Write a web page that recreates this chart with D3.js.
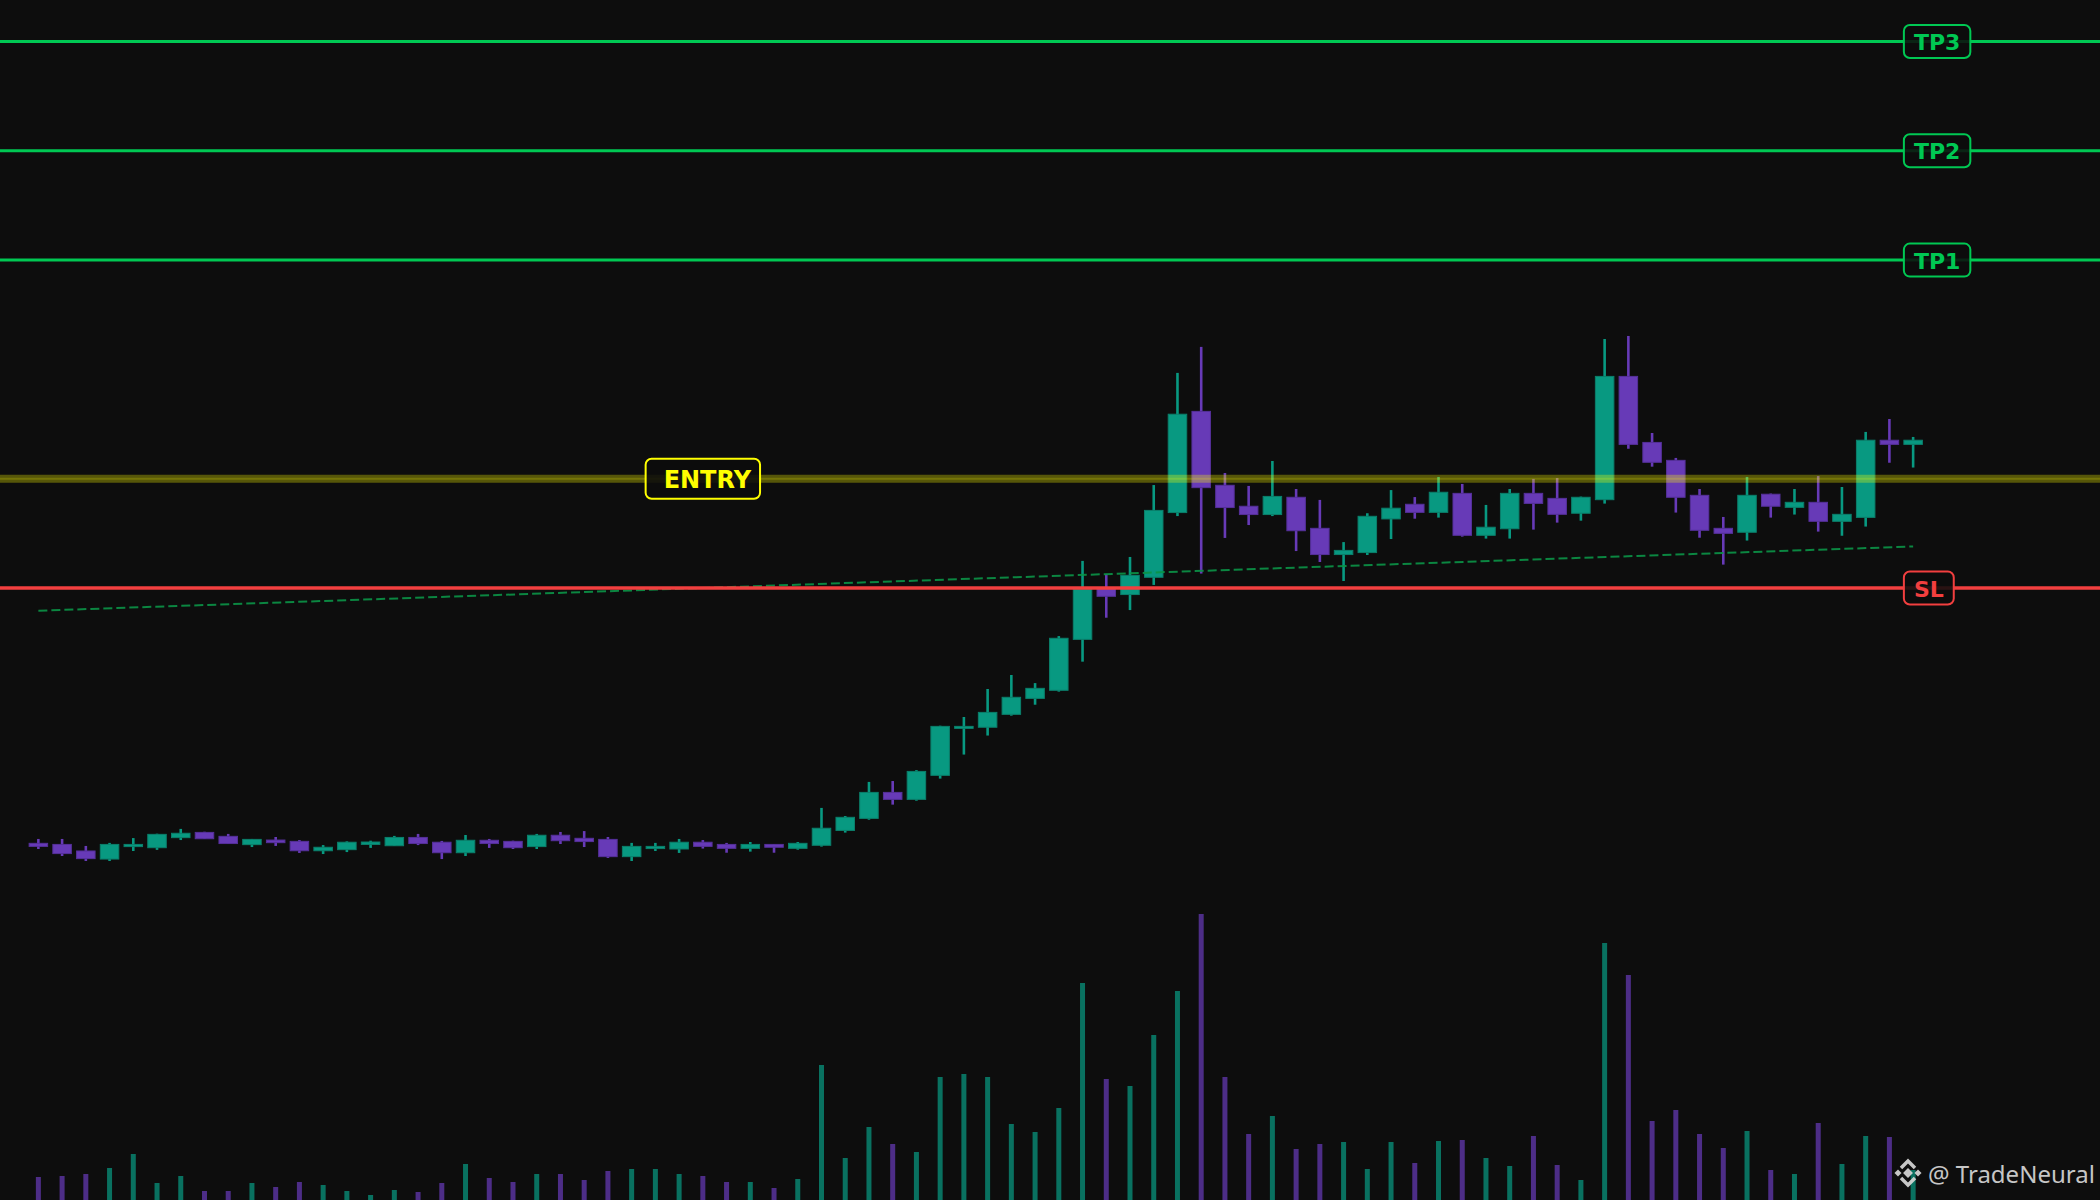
<!DOCTYPE html>
<html>
<head>
<meta charset="utf-8">
<script src="https://cdn.jsdelivr.net/npm/d3@7"></script>
<style>
  html, body { margin: 0; padding: 0; background: #0d0d0d; overflow: hidden; }
</style>
</head>
<body>
<div id="chart"></div>
<script>
//-------- Data --------

var opens = [83.32, 83.27, 82.97, 82.60, 83.17, 83.12, 83.58, 83.82, 83.64, 83.26,
  83.47, 83.41, 82.98, 83.03, 83.27, 83.21, 83.59, 83.37, 82.89, 83.46,
  83.41, 83.17, 83.69, 83.55, 83.50, 82.71, 83.08, 83.06, 83.37, 83.27,
  83.09, 83.27, 83.09, 83.23, 83.91, 84.46, 85.65, 85.33, 86.43, 88.58,
  88.63, 89.22, 89.95, 90.32, 92.65, 94.99, 94.70, 95.49, 98.45, 103.08,
  99.70, 98.74, 98.36, 99.15, 97.73, 96.53, 96.62, 98.16, 98.83, 98.46,
  99.33, 97.41, 97.71, 99.33, 99.10, 98.42, 99.04, 104.68, 101.66, 100.84,
  99.24, 97.73, 97.55, 99.29, 98.69, 98.92, 98.05, 98.23, 101.76, 101.57];

var highs = [83.52, 83.52, 83.20, 83.34, 83.56, 83.76, 83.98, 83.85, 83.75, 83.52,
  83.61, 83.47, 83.24, 83.41, 83.44, 83.66, 83.75, 83.43, 83.70, 83.52,
  83.44, 83.75, 83.84, 83.88, 83.61, 83.34, 83.34, 83.52, 83.47, 83.34,
  83.38, 83.29, 83.38, 84.94, 84.57, 86.13, 86.17, 86.67, 88.70, 89.10,
  90.38, 91.02, 90.65, 92.80, 96.24, 95.64, 96.42, 99.71, 104.84, 106.03,
  100.26, 99.67, 100.81, 99.53, 99.03, 97.10, 98.42, 99.48, 99.16, 100.08,
  99.76, 98.80, 99.53, 99.99, 100.03, 99.18, 106.39, 106.53, 102.09, 100.95,
  99.53, 98.25, 100.08, 99.32, 99.53, 100.12, 99.62, 102.14, 102.73, 101.91];

var lows = [83.06, 82.74, 82.51, 82.51, 82.97, 83.02, 83.47, 83.52, 83.29, 83.15,
  83.20, 82.88, 82.83, 82.92, 83.11, 83.20, 83.24, 82.60, 82.74, 83.11,
  83.06, 83.06, 83.29, 83.15, 82.65, 82.51, 82.97, 82.88, 83.08, 82.89,
  82.94, 82.89, 83.03, 83.17, 83.81, 84.40, 85.09, 85.27, 86.28, 87.38,
  88.25, 89.16, 89.66, 90.26, 91.63, 93.64, 93.99, 95.14, 98.29, 95.66,
  97.29, 97.88, 98.29, 96.69, 96.19, 95.32, 96.51, 97.24, 98.17, 98.22,
  97.35, 97.26, 97.26, 97.67, 97.99, 98.08, 98.86, 101.37, 100.55, 98.45,
  97.30, 96.07, 97.17, 98.22, 98.36, 97.58, 97.39, 97.81, 100.73, 100.51];

var closes = [83.18, 82.85, 82.62, 83.27, 83.27, 83.73, 83.78, 83.53, 83.31, 83.50,
  83.35, 82.98, 83.14, 83.37, 83.38, 83.59, 83.31, 82.89, 83.46, 83.31,
  83.12, 83.69, 83.44, 83.40, 82.71, 83.18, 83.18, 83.37, 83.18, 83.09,
  83.27, 83.14, 83.32, 84.01, 84.51, 85.65, 85.33, 86.61, 88.67, 88.67,
  89.31, 90.00, 90.41, 92.70, 94.95, 94.62, 95.58, 98.55, 102.95, 99.59,
  98.68, 98.36, 99.19, 97.62, 96.53, 96.72, 98.28, 98.65, 98.46, 99.38,
  97.41, 97.78, 99.33, 98.87, 98.37, 99.15, 104.68, 101.57, 100.75, 99.15,
  97.64, 97.50, 99.24, 98.74, 98.92, 98.05, 98.37, 101.76, 101.57, 101.76];

var volumes = [23, 24, 26, 32, 46, 17, 24, 9, 9, 17,
  13, 18, 15, 9, 5, 10, 8, 17, 36, 22,
  18, 26, 26, 20, 29, 31, 31, 26, 24, 18,
  18, 12, 21, 135, 42, 73, 56, 48, 123, 126,
  123, 76, 68, 92, 217, 121, 114, 165, 209, 286,
  123, 66, 84, 51, 56, 58, 31, 58, 37, 59,
  60, 42, 34, 64, 35, 20, 257, 225, 79, 90,
  66, 52, 69, 30, 26, 77, 36, 64, 63, 30];

// trade levels
var levelNames = ['TP3', 'TP2', 'TP1', 'ENTRY', 'SL'];
var levelPrices = [120, 115, 110, 100, 95];

// dashed support trend (price at first and last candle)
var trendPrices = [93.96, 96.90];

var watermarkText = '@ TradeNeural';

//-------- Setup --------
var W = 2100, H = 1200;
var upColor = '#089981', downColor = '#673ab7';
var upEdge = '#0b7f6b', downEdge = '#55309a';

var svg = d3.select('#chart').append('svg')
  .attr('width', W).attr('height', H)
  .style('display', 'block');

svg.append('rect').attr('width', W).attr('height', H).attr('fill', '#0d0d0d');

var idx = d3.range(opens.length);
var x = d3.scaleBand().domain(idx).range([26.5, 1925]).paddingInner(0.22).paddingOuter(0.11);
var xc = function(i) { return x(i) + x.bandwidth() / 2; };

var y = d3.scaleLinear().domain([95, 120]).range([588, 41.5]);
var yv = d3.scaleLinear().domain([0, 286]).range([H, 914]);

var isUp = function(i) { return closes[i] >= opens[i]; };

//-------- Volume --------
svg.append('g').selectAll('rect').data(idx).enter().append('rect')
  .attr('x', function(i) { return xc(i) - 2.5; })
  .attr('width', 5)
  .attr('y', function(i) { return yv(volumes[i]); })
  .attr('height', function(i) { return H - yv(volumes[i]); })
  .attr('fill', function(i) { return isUp(i) ? upColor : downColor; })
  .attr('opacity', 0.72);

//-------- Candles --------
var candles = svg.append('g').selectAll('g').data(idx).enter().append('g');

candles.append('line')
  .attr('x1', xc).attr('x2', xc)
  .attr('y1', function(i) { return y(highs[i]); })
  .attr('y2', function(i) { return y(lows[i]); })
  .attr('stroke', function(i) { return isUp(i) ? upColor : downColor; })
  .attr('stroke-width', 2.6);

candles.append('rect')
  .attr('x', function(i) { return x(i); })
  .attr('width', x.bandwidth())
  .attr('y', function(i) { return y(Math.max(opens[i], closes[i])); })
  .attr('height', function(i) { return Math.max(2, Math.abs(y(opens[i]) - y(closes[i]))); })
  .attr('fill', function(i) { return isUp(i) ? upColor : downColor; })
  .attr('stroke', function(i) { return isUp(i) ? upEdge : downEdge; })
  .attr('stroke-width', 1);

//-------- Trend line --------
svg.append('line')
  .attr('x1', xc(0)).attr('y1', y(trendPrices[0]))
  .attr('x2', xc(idx.length - 1)).attr('y2', y(trendPrices[1]))
  .attr('stroke', '#0b9447')
  .attr('stroke-width', 2)
  .attr('stroke-dasharray', '9,4')
  .attr('opacity', 0.9);

//-------- Level lines --------
var levelColor = { TP3: '#00c853', TP2: '#00c853', TP1: '#00c853', ENTRY: '#ffff00', SL: '#f23f3f' };

levelNames.forEach(function(name, k) {
  var ly = y(levelPrices[k]);
  if (name === 'ENTRY') {
    svg.append('line').attr('x1', 0).attr('x2', W).attr('y1', ly).attr('y2', ly)
      .attr('stroke', '#ffff00').attr('stroke-width', 8).attr('opacity', 0.3);
    svg.append('line').attr('x1', 0).attr('x2', W).attr('y1', ly).attr('y2', ly)
      .attr('stroke', '#ffff00').attr('stroke-width', 2).attr('opacity', 0.18);
  } else {
    svg.append('line').attr('x1', 0).attr('x2', W).attr('y1', ly).attr('y2', ly)
      .attr('stroke', levelColor[name]).attr('stroke-width', name === 'SL' ? 3.5 : 3);
  }
});

//-------- Level labels --------
// TP / SL boxes are left-aligned at the last candle, ENTRY is centred on candle 29
levelNames.forEach(function(name, k) {
  var ly = y(levelPrices[k]);
  var col = levelColor[name];
  var entry = name === 'ENTRY';
  var g = svg.append('g');
  var box = g.append('rect');
  var txt = g.append('text')
    .text(name)
    .attr('font-family', 'DejaVu Sans, sans-serif')
    .attr('font-weight', 'bold')
    .attr('font-size', entry ? 24 : 22)
    .attr('fill', col)
    .attr('dominant-baseline', 'central')
    .attr('y', ly + 1);
  var tw = txt.node().getComputedTextLength();
  var padL = entry ? 18 : 10, padR = entry ? 9 : 10;
  var bw = tw + padL + padR, bh = entry ? 40 : 33;
  var bx = entry ? xc(28) - bw / 2 : x(idx.length - 1);
  box.attr('x', bx).attr('y', ly - bh / 2).attr('width', bw).attr('height', bh)
    .attr('rx', 6).attr('ry', 6)
    .attr('fill', '#0d0d0d').attr('fill-opacity', 0.88)
    .attr('stroke', col).attr('stroke-width', 2);
  txt.attr('x', bx + padL);
});

//-------- Watermark --------
var wm = svg.append('g').attr('fill', '#d6d6d6').attr('opacity', 0.92);
var lg = wm.append('g').attr('transform', 'translate(1908,1173)');
lg.append('rect').attr('x', -3.5).attr('y', -3.5).attr('width', 7).attr('height', 7)
  .attr('transform', 'rotate(45)');
lg.append('rect').attr('x', -2.5).attr('y', -2.5).attr('width', 5).attr('height', 5)
  .attr('transform', 'translate(-10,0) rotate(45)');
lg.append('rect').attr('x', -2.5).attr('y', -2.5).attr('width', 5).attr('height', 5)
  .attr('transform', 'translate(10,0) rotate(45)');
lg.append('path').attr('d', 'M-7,-5 L0,-12 L7,-5').attr('fill', 'none')
  .attr('stroke', '#d6d6d6').attr('stroke-width', 3.5);
lg.append('path').attr('d', 'M-7,5 L0,12 L7,5').attr('fill', 'none')
  .attr('stroke', '#d6d6d6').attr('stroke-width', 3.5);

wm.append('text')
  .text(watermarkText)
  .attr('x', 1928).attr('y', 1183)
  .attr('font-family', 'Noto Sans, Open Sans, sans-serif')
  .attr('font-size', 24);
</script>
</body>
</html>
